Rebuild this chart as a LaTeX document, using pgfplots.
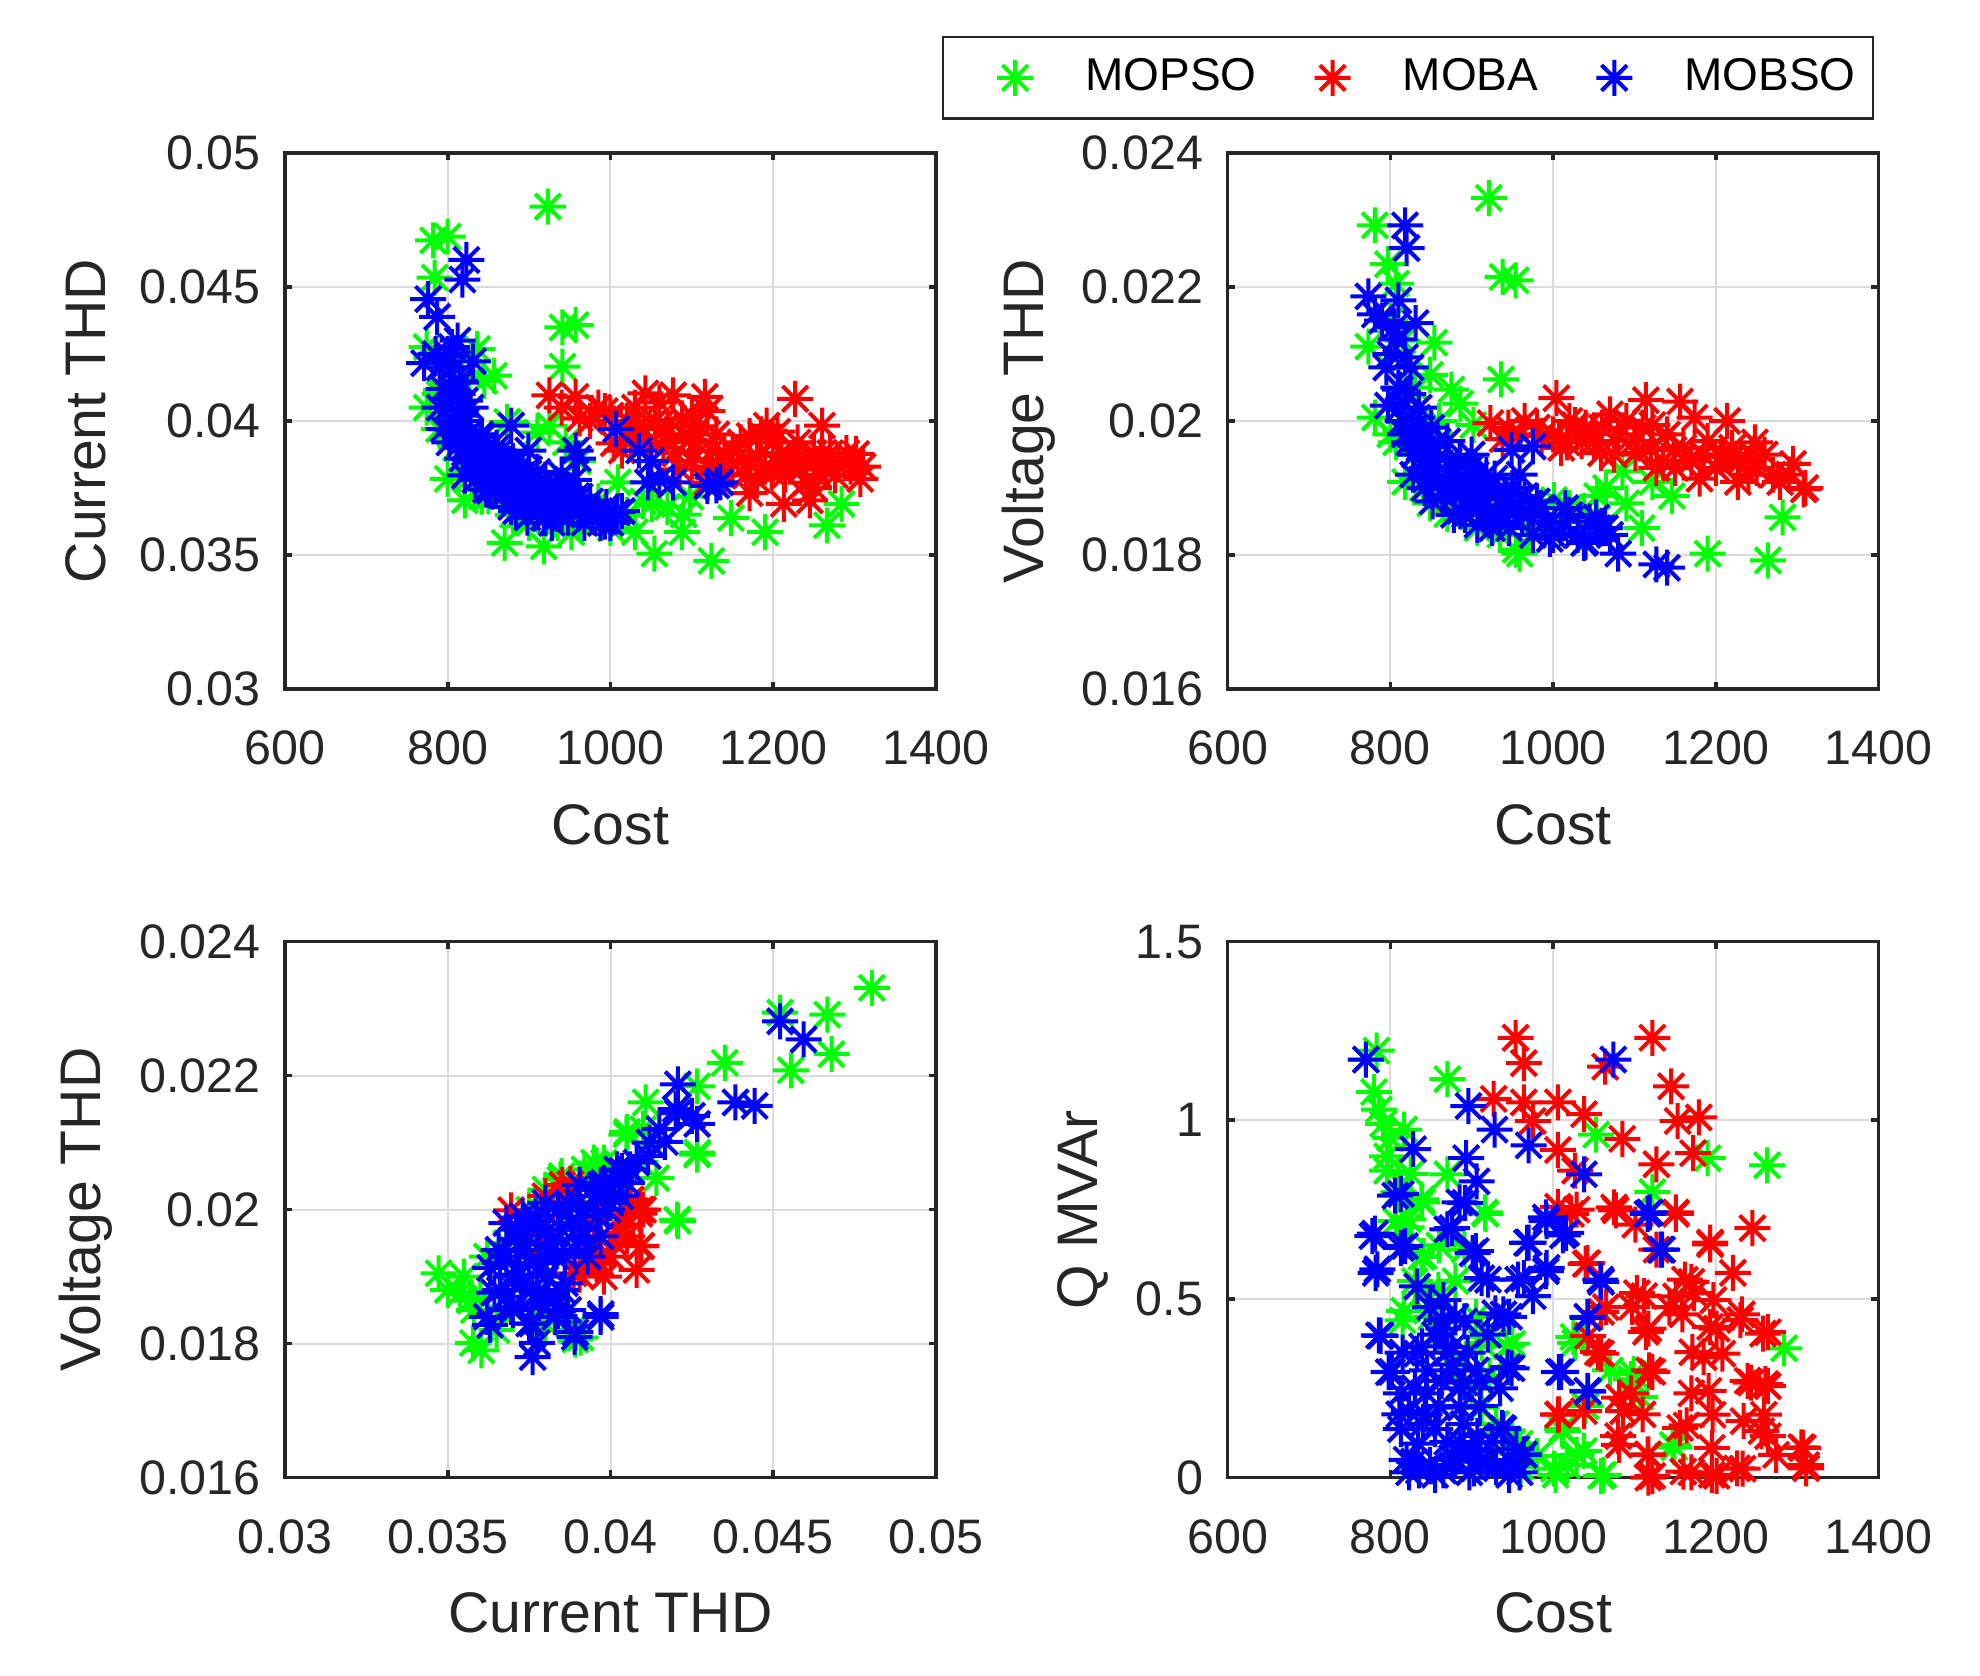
\documentclass[border=0pt]{standalone}
\usepackage{fontspec}
\setmainfont{Liberation Sans}
\usepackage{pgfplots}
\pgfplotsset{compat=1.18}
\definecolor{mgreen}{rgb}{0,1,0}
\definecolor{mred}{rgb}{1,0,0}
\definecolor{mblue}{rgb}{0,0,1}
\definecolor{axgray}{rgb}{0.15,0.15,0.15}
\pgfdeclareplotmark{mstar}{%
  \pgfpathmoveto{\pgfqpoint{0pt}{\pgfplotmarksize}}\pgfpathlineto{\pgfqpoint{0pt}{-\pgfplotmarksize}}%
  \pgfpathmoveto{\pgfqpoint{\pgfplotmarksize}{0pt}}\pgfpathlineto{\pgfqpoint{-\pgfplotmarksize}{0pt}}%
  \pgfpathmoveto{\pgfqpoint{0.7071\pgfplotmarksize}{0.7071\pgfplotmarksize}}\pgfpathlineto{\pgfqpoint{-0.7071\pgfplotmarksize}{-0.7071\pgfplotmarksize}}%
  \pgfpathmoveto{\pgfqpoint{-0.7071\pgfplotmarksize}{0.7071\pgfplotmarksize}}\pgfpathlineto{\pgfqpoint{0.7071\pgfplotmarksize}{-0.7071\pgfplotmarksize}}%
  \pgfusepathqstroke}
\pgfplotsset{
  myaxis/.style={
    scale only axis, width=162.75pt, height=134pt,
    grid=major, grid style={line width=0.5pt, draw=gray!28},
    axis line style={line width=0.9pt, draw=axgray},
    tick style={line width=0.9pt, draw=axgray},
    major tick length=1.8pt, tick align=inside,
    ticklabel style={font=\fontsize{12.1}{14}\selectfont, text=axgray, /pgf/number format/assume math mode=true},
    label style={font=\fontsize{14.3}{17}\selectfont, text=axgray},
    xticklabel style={yshift=-6.9pt},
    yticklabel style={xshift=-2.6pt},
    scaled ticks=false,
    /pgf/number format/fixed, /pgf/number format/precision=3, /pgf/number format/1000 sep={},
    clip=false,
    xlabel style={at={(axis description cs:0.5,-0.253)}, anchor=center},
    ylabel style={at={(axis description cs:-0.3066,0.5)}, anchor=center},
  },
  costx/.style={xmin=600, xmax=1400, xtick={600,800,1000,1200,1400}, xlabel={Cost}},
  gs/.style={only marks, mark=mstar, mark size=4.5pt, color=mgreen, mark options={line width=1pt}},
  rs/.style={only marks, mark=mstar, mark size=4.5pt, color=mred, mark options={line width=1pt}},
  bs/.style={only marks, mark=mstar, mark size=4.5pt, color=mblue, mark options={line width=1pt}},
}
\begin{document}
\begin{tikzpicture}
\useasboundingbox (0pt,0pt) rectangle (495pt,-418.75pt);
% ---------------- top left: Cost vs Current THD
\begin{axis}[myaxis, costx, at={(71.25pt,-38.25pt)}, anchor=north west,
  ymin=0.03, ymax=0.05, ytick={0.03,0.035,0.04,0.045,0.05}, ylabel={Current THD}]
\addplot[gs] coordinates {
(923,0.0480) (782,0.04674) (800,0.04688) (784,0.04535) (941,0.04349) (957,0.04358) (941,0.04203) (774,0.04276)
(836,0.04269) (857,0.04169) (826,0.04183) (774,0.0405) (792,0.04116) (789,0.0397) (800,0.03784) (821,0.03704)
(842,0.03718) (870,0.03545) (918,0.03532) (952,0.03585) (1030,0.03585) (1054,0.03505) (1088,0.03585) (1090,0.03651)
(1124,0.03478) (1148,0.03638) (1190,0.03585) (1266,0.03611) (1284,0.03691) (1051,0.03691) (1009,0.03771) (925,0.03983)
(910,0.03957) (873,0.03997) (889,0.03651) (962,0.03625) (1098,0.03718)
(810,0.0390) (830,0.0380) (850,0.0372) (880,0.0365) (900,0.0362) (935,0.0362) (985,0.0370) (1000,0.0360)
(1020,0.0365) (1070,0.0368) (945,0.0392) (960,0.0385) (790,0.0410) (805,0.0420) (845,0.0415) (860,0.0385) (1040,0.0370)
};
\addplot[rs] coordinates {
(925,0.04096) (957,0.0409) (1043,0.04103) (1077,0.04096) (1116,0.0409) (1227,0.04083) (993,0.04037) (962,0.0401)
(1088,0.0401) (1119,0.04037) (1192,0.03983) (1260,0.03983) (1171,0.03944) (1302,0.03877) (1310,0.0383) (1307,0.03784)
(1260,0.03877) (1213,0.03691) (1245,0.03704) (1171,0.03731) (1198,0.0381) (1014,0.0389) (1067,0.03944) (1098,0.0393)
(1150,0.0389) (1224,0.0385) (1166,0.03797) (1119,0.0377) (1041,0.0397) (1004,0.03917) (1276,0.03797) (1240,0.0377)
(940,0.0405) (975,0.0400) (1000,0.0402) (1020,0.0400) (1030,0.0405) (1055,0.0400) (1060,0.0407) (1070,0.0398)
(1090,0.0395) (1100,0.0402) (1110,0.0398) (1130,0.0395) (1140,0.0388) (1160,0.0392) (1180,0.0387) (1185,0.0395)
(1200,0.0392) (1210,0.0388) (1215,0.0380) (1230,0.0392) (1235,0.0382) (1250,0.0388) (1265,0.0382) (1280,0.0385)
(1290,0.0388) (1140,0.0380) (1100,0.0385) (1050,0.0385) (1025,0.0393) (1080,0.0388) (1120,0.0383) (1180,0.0378) (1250,0.0375)
(1035,0.0398) (1045,0.0392) (1065,0.0390) (1085,0.0382) (1105,0.0392) (1125,0.0389) (1150,0.0384) (1170,0.0385)
(1190,0.0383) (1205,0.0396) (1220,0.0386) (1240,0.0385) (1255,0.0380) (1270,0.0388) (1295,0.0383) (985,0.0405)
};
\addplot[bs] coordinates {
(823,0.04601) (818,0.04528) (776,0.04455) (787,0.04389) (771,0.04216) (805,0.04276) (831,0.04223) (816,0.04143)
(821,0.04076) (795,0.0397) (816,0.03917) (836,0.0385) (857,0.0389) (878,0.03983) (899,0.0389) (821,0.03797)
(847,0.03744) (884,0.03771) (910,0.0381) (884,0.03664) (920,0.03638) (957,0.0389) (962,0.03718) (993,0.03625)
(1014,0.03664) (1007,0.0397) (1035,0.0389) (1046,0.03771) (1077,0.03771) (1119,0.03757) (1135,0.03771) (936,0.03757)
(868,0.0385) (931,0.03718) (973,0.03664)
(800,0.0405) (805,0.0400) (810,0.0395) (812,0.0410) (815,0.0402) (820,0.0390) (825,0.0395) (828,0.0405)
(830,0.0385) (835,0.0392) (840,0.0380) (845,0.0388) (850,0.0378) (855,0.0384) (860,0.0376) (865,0.0381)
(870,0.0374) (875,0.0379) (880,0.0372) (885,0.0377) (890,0.0370) (895,0.0375) (900,0.0368) (905,0.0373)
(910,0.0366) (915,0.0371) (925,0.0368) (940,0.0365) (945,0.0372) (950,0.0368) (955,0.0378) (965,0.0367)
(975,0.0370) (985,0.0366) (995,0.0368) (1000,0.0362) (808,0.0420) (800,0.0425) (790,0.0420) (815,0.0415)
(840,0.0395) (860,0.0390) (880,0.0385) (900,0.0382) (920,0.0378) (940,0.0380) (960,0.0386) (1050,0.0385) (1060,0.0378) (1130,0.0376)
(802,0.0392) (806,0.0408) (812,0.0398) (818,0.0386) (822,0.0400) (828,0.0390) (834,0.0378) (838,0.0386)
(842,0.0394) (848,0.0382) (852,0.0374) (858,0.0380) (862,0.0388) (868,0.0372) (872,0.0384) (878,0.0368)
(882,0.0380) (888,0.0374) (892,0.0380) (898,0.0364) (902,0.0378) (908,0.0370) (912,0.0376) (918,0.0364)
(922,0.0372) (928,0.0362) (932,0.0374) (938,0.0370) (948,0.0364) (958,0.0372) (968,0.0362) (978,0.0366)
(988,0.0362) (1008,0.0366) (790,0.0405) (795,0.0412) (785,0.0425) (812,0.0430)
};
\end{axis}
% ---------------- top right: Cost vs Voltage THD
\begin{axis}[myaxis, costx, at={(306.9pt,-38.25pt)}, anchor=north west,
  ymin=0.016, ymax=0.024, ytick={0.016,0.018,0.02,0.022,0.024}, ylabel={Voltage THD},
  ylabel style={at={(axis description cs:-0.305,0.5)}},
  legend columns=3,
  legend image code/.code={\path (0pt,0pt) (30.75pt,0pt); \draw plot coordinates {(15.5pt,0pt)};},
  legend style={at={(0.9929,1.2183)}, anchor=north east, draw=axgray, line width=0.6pt,
    inner xsep=2.25pt, inner ysep=3.4pt, font=\fontsize{11.5}{13}\selectfont, text=black,
    /tikz/every even column/.append style={column sep=1.2pt},
    cells={anchor=west, inner xsep=0pt}}]
\addplot[gs] coordinates {
(921,0.02333) (781,0.02292) (797,0.02234) (807,0.02205) (938,0.02215) (954,0.0221) (773,0.02111) (854,0.02117)
(849,0.02069) (936,0.02062) (875,0.02047) (781,0.02005) (807,0.01968) (818,0.01909) (849,0.01877) (870,0.01861)
(907,0.0184) (954,0.01808) (959,0.01802) (1085,0.01925) (1090,0.01877) (1054,0.01888) (1109,0.0184) (1146,0.01888)
(1122,0.01909) (1190,0.01802) (1264,0.01792) (1282,0.01856) (886,0.02026) (902,0.01994) (1001,0.01882) (1038,0.01866)
(800,0.0215) (815,0.0212) (830,0.0195) (840,0.0190) (860,0.0200) (880,0.0187) (890,0.0192) (920,0.0186)
(935,0.0183) (945,0.0188) (970,0.0184) (985,0.0186) (1020,0.0187) (1065,0.0190) (830,0.0205) (800,0.0198)
};
\addlegendentry{MOPSO}
\addplot[rs] coordinates {
(1004,0.02034) (1114,0.02031) (1156,0.02029) (1214,0.0200) (923,0.01997) (965,0.0200) (1027,0.01994) (1070,0.0201)
(1122,0.01994) (1174,0.02005) (1248,0.01968) (1295,0.01936) (1308,0.01898) (1279,0.01909) (1240,0.0192) (1180,0.01914)
(1127,0.0193) (1059,0.01952) (1017,0.01968) (986,0.01978) (938,0.01973) (1206,0.01946) (1148,0.01957) (1227,0.01909) (1101,0.01952)
(945,0.0199) (980,0.0199) (1000,0.0198) (1040,0.0199) (1050,0.0197) (1080,0.0198) (1090,0.0200) (1100,0.0197)
(1140,0.0198) (1160,0.0196) (1170,0.0194) (1190,0.0197) (1200,0.0193) (1220,0.0196) (1230,0.0194) (1250,0.0193)
(1260,0.0195) (1270,0.0192) (1290,0.0192) (1310,0.0190) (1150,0.0193) (1120,0.0196) (1060,0.0199) (1020,0.0200) (960,0.0198)
(1010,0.0196) (1035,0.0197) (1075,0.0195) (1110,0.0199) (1135,0.0194) (1185,0.0195) (1210,0.0195) (1245,0.0195)
};
\addlegendentry{MOBA}
\addplot[bs] coordinates {
(818,0.02292) (820,0.02258) (773,0.02186) (781,0.02159) (831,0.02146) (807,0.02122) (818,0.02095) (812,0.02047)
(797,0.02023) (833,0.02005) (823,0.01968) (849,0.01946) (875,0.0193) (891,0.01904) (912,0.01888) (907,0.01845)
(949,0.01957) (975,0.01962) (959,0.0192) (943,0.01866) (996,0.01824) (1038,0.01818) (1053,0.01856) (1064,0.0184)
(1080,0.01802) (1127,0.01786) (1140,0.01781) (865,0.01888) (844,0.01914) (886,0.01866) (928,0.01914) (965,0.01888)
(790,0.0215) (800,0.0210) (810,0.0205) (815,0.0200) (825,0.0198) (830,0.0195) (840,0.0197) (845,0.0193)
(855,0.0194) (860,0.0191) (870,0.0192) (880,0.0189) (885,0.0194) (895,0.0190) (900,0.0187) (905,0.0192)
(915,0.0190) (920,0.0186) (930,0.0189) (935,0.0185) (950,0.0190) (955,0.0187) (970,0.0186) (980,0.0188)
(990,0.0185) (1010,0.0184) (1020,0.0186) (1030,0.0183) (1045,0.0185) (1060,0.0184) (1070,0.0183) (810,0.0218)
(825,0.0208) (835,0.0202) (850,0.0199) (870,0.0197) (900,0.0195)
(795,0.0208) (805,0.0214) (812,0.0202) (818,0.0198) (822,0.0204) (828,0.0192) (836,0.0196) (842,0.0190)
(848,0.0195) (852,0.0188) (858,0.0197) (864,0.0189) (872,0.0194) (878,0.0186) (884,0.0191) (892,0.0186)
(898,0.0193) (908,0.0187) (918,0.0192) (925,0.0184) (940,0.0189) (946,0.0184) (962,0.0186) (975,0.0183)
(985,0.0187) (1000,0.0183) (1015,0.0187) (1040,0.0182) (1055,0.0184)
};
\addlegendentry{MOBSO}
\end{axis}
% ---------------- bottom left: Current THD vs Voltage THD
\begin{axis}[myaxis, at={(71.25pt,-235.4pt)}, anchor=north west,
  xmin=0.03, xmax=0.05, xtick={0.03,0.035,0.04,0.045,0.05}, xlabel={Current THD},
  ymin=0.016, ymax=0.024, ytick={0.016,0.018,0.02,0.022,0.024}, ylabel={Voltage THD}]
\addplot[gs] coordinates {
(0.04803,0.02331) (0.04521,0.02294) (0.04666,0.02291) (0.04679,0.02232) (0.04554,0.02208) (0.04351,0.02219)
(0.04266,0.02184) (0.04108,0.0216) (0.04049,0.02112) (0.04266,0.02082) (0.04207,0.01983) (0.03957,0.02066)
(0.03472,0.01905) (0.03538,0.01876) (0.03577,0.01801) (0.03603,0.0179) (0.03892,0.01806) (0.03905,0.02042) (0.04141,0.02047)
(0.0350,0.0188) (0.0355,0.0190) (0.0358,0.0185) (0.0362,0.0193) (0.0368,0.0195) (0.0375,0.0200) (0.0380,0.0203)
(0.0385,0.0205) (0.0392,0.0206) (0.0398,0.0207) (0.0388,0.0182) (0.0380,0.0183) (0.0370,0.0185) (0.0365,0.0182)
(0.0395,0.0200) (0.0400,0.0203) (0.0410,0.0212) (0.0360,0.0187)
(0.03908,0.01809) (0.04205,0.01985) (0.04051,0.02116) (0.03949,0.0207) (0.04267,0.02085) (0.03846,0.02045) (0.03569,0.01864)
};
\addplot[rs] coordinates {
(0.03695,0.01999) (0.038,0.0202) (0.04089,0.01994) (0.04095,0.01946) (0.03957,0.01919) (0.03905,0.01903)
(0.04036,0.01978) (0.0401,0.01951) (0.03852,0.02037) (0.04062,0.02015)
(0.0375,0.0197) (0.0385,0.0200) (0.0390,0.0197) (0.0395,0.0195) (0.0400,0.0193) (0.0405,0.0196) (0.0410,0.0200)
(0.0398,0.0190) (0.0392,0.0192) (0.0380,0.0195) (0.0388,0.0203) (0.0403,0.0199) (0.0408,0.0191) (0.0397,0.0199)
(0.03877,0.02038) (0.04092,0.0200) (0.04092,0.01945) (0.03969,0.0192) (0.03887,0.01905) (0.0402,0.01965) (0.04062,0.02015)
};
\addplot[bs] coordinates {
(0.04521,0.02281) (0.04593,0.02254) (0.04207,0.02187) (0.04384,0.0216) (0.04443,0.02155) (0.04266,0.02128)
(0.04207,0.02144) (0.04167,0.02101) (0.04115,0.0208) (0.04036,0.02058) (0.0397,0.02037) (0.03905,0.02037)
(0.03839,0.01999) (0.03774,0.01983) (0.03708,0.01956) (0.03656,0.0194) (0.0363,0.01913) (0.03643,0.01876)
(0.0363,0.01828) (0.03761,0.0178) (0.03774,0.01801) (0.0397,0.01844) (0.03892,0.01817) (0.03839,0.01849)
(0.03721,0.01903) (0.038,0.0193) (0.03905,0.01956) (0.03774,0.01876) (0.03695,0.01855)
(0.0370,0.0190) (0.0372,0.0195) (0.0375,0.0192) (0.0378,0.0197) (0.0380,0.0190) (0.0382,0.0195) (0.0384,0.0200)
(0.0386,0.0193) (0.0388,0.0198) (0.0390,0.0201) (0.0392,0.0196) (0.0394,0.0203) (0.0396,0.0199) (0.0398,0.0204)
(0.0400,0.0201) (0.0402,0.0206) (0.0405,0.0204) (0.0408,0.0207) (0.0412,0.0210) (0.0415,0.0212) (0.0420,0.0215)
(0.0425,0.0214) (0.0378,0.0186) (0.0385,0.0188) (0.0368,0.0187) (0.0375,0.0183) (0.0383,0.0184) (0.0373,0.0199)
(0.0380,0.0201) (0.0366,0.0192)
(0.0366,0.0188) (0.0368,0.0193) (0.0370,0.0185) (0.0371,0.0197) (0.0373,0.0189) (0.0374,0.0194) (0.0376,0.0188)
(0.0377,0.0199) (0.0379,0.0192) (0.0381,0.0187) (0.0381,0.0197) (0.0383,0.0193) (0.0385,0.0197) (0.0386,0.0189)
(0.0387,0.0201) (0.0389,0.0194) (0.0391,0.0199) (0.0393,0.0193) (0.0395,0.0202) (0.0397,0.0196) (0.0399,0.0200)
(0.0401,0.0204) (0.0403,0.0202) (0.0406,0.0206) (0.0362,0.0184) (0.0376,0.0183) (0.0389,0.0181) (0.0397,0.0184)
(0.0387,0.0185) (0.0368,0.0198)
};
\end{axis}
% ---------------- bottom right: Cost vs Q
\begin{axis}[myaxis, costx, at={(306.9pt,-235.4pt)}, anchor=north west,
  ymin=0, ymax=1.5, ytick={0,0.5,1,1.5}, ylabel={Q MVAr},
  ylabel style={at={(axis description cs:-0.223,0.5)}}]
\addplot[gs] coordinates {
(783,1.195) (770,1.17) (780,1.079) (786,1.03) (791,0.99) (817,0.974) (870,1.115) (796,0.899) (796,0.859)
(1053,0.96) (1190,0.894) (1263,0.874) (838,0.779) (870,0.849) (917,0.738) (807,0.718) (838,0.618) (1284,0.362)
(1122,0.799) (1027,0.377) (912,0.377) (943,0.367) (817,0.467) (844,0.517) (891,0.638) (1001,0.025) (1059,0.005)
(1038,0.075) (1017,0.035) (1011,0.136) (959,0.095) (1149,0.085) (1107,0.226) (1096,0.276) (912,0.196) (922,0.286)
(800,0.95) (810,0.80) (820,0.70) (830,0.55) (850,0.45) (860,0.40) (880,0.30) (900,0.25) (930,0.15)
(945,0.10) (960,0.03) (980,0.06) (1040,0.20) (1070,0.30) (905,0.45) (860,0.65) (825,0.85) (880,0.55)
(916,0.742) (839,0.77) (822,0.723) (841,0.62) (815,0.44) (859,0.525) (950,0.375) (911,0.394) (1025,0.394)
(1099,0.29) (1012,0.13) (1003,0.008) (1029,0.064) (1062,0.008) (1147,0.092) (950,0.10) (964,0.055)
};
\addplot[rs] coordinates {
(954,1.231) (1122,1.231) (964,1.16) (1064,1.15) (1145,1.095) (927,1.06) (964,1.05) (1006,1.05) (1038,1.017)
(1153,0.998) (1179,1.008) (975,0.998) (1085,0.948) (1006,0.917) (1172,0.908) (1127,0.877) (1027,0.859)
(1006,0.758) (1022,0.738) (1077,0.748) (1151,0.738) (1245,0.698) (1101,0.708) (1193,0.658) (1127,0.638)
(1040,0.598) (1221,0.573) (1170,0.548) (1112,0.508) (1143,0.477) (1159,0.457) (1065,0.477) (1232,0.457)
(1264,0.407) (1201,0.417) (1059,0.347) (1122,0.296) (1185,0.337) (1243,0.266) (1264,0.256) (1096,0.236)
(1170,0.236) (1006,0.176) (1086,0.186) (1196,0.176) (1259,0.176) (1305,0.085) (1311,0.035) (1164,0.146)
(1080,0.116) (1117,0.065) (1170,0.015) (1201,0.005) (1233,0.025) (1122,0.005) (1264,0.116) (1043,0.397) (1117,0.417)
(1029,0.75) (1075,0.756) (1151,0.742) (1193,0.653) (1162,0.554) (1103,0.516) (1151,0.507) (1042,0.60)
(1059,0.464) (1114,0.408) (1193,0.422) (1230,0.441) (1258,0.403) (1171,0.351) (1208,0.347) (1055,0.351)
(1118,0.30) (1191,0.243) (1239,0.271) (1261,0.262) (1007,0.177) (1038,0.186) (1110,0.177) (1156,0.139)
(1234,0.158) (1256,0.13) (1081,0.092) (1116,0.064) (1195,0.083) (1307,0.083) (1311,0.026) (1117,0)
(1160,0.017) (1195,0.008) (1226,0.026) (1274,0.064) (1081,0.224) (1097,0.478) (1173,0.516) (1197,0.497)
};
\addplot[bs] coordinates {
(770,1.17) (1074,1.17) (896,1.04) (928,0.974) (970,0.93) (828,0.919) (893,0.894) (906,0.829) (1038,0.849)
(813,0.794) (892,0.769) (876,0.698) (781,0.683) (818,0.648) (784,0.583) (970,0.658) (1012,0.678) (991,0.728)
(1116,0.738) (1132,0.638) (1059,0.548) (901,0.628) (912,0.558) (964,0.558) (991,0.578) (975,0.508) (939,0.457)
(1043,0.447) (788,0.397) (839,0.367) (802,0.296) (949,0.306) (1010,0.296) (1043,0.241) (849,0.477) (865,0.417)
(876,0.316) (891,0.266) (823,0.186) (813,0.136) (834,0.095) (849,0.035) (823,0.015) (876,0.055) (897,0.015)
(918,0.045) (939,0.136) (964,0.065) (959,0.015) (855,0.136) (886,0.196) (907,0.116) (844,0.236) (813,0.236)
(891,0.437) (865,0.497)
(830,0.25) (845,0.30) (860,0.20) (870,0.10) (880,0.05) (890,0.15) (900,0.08) (910,0.20) (925,0.10) (930,0.03)
(945,0.05) (955,0.08) (820,0.05) (840,0.15) (855,0.40) (870,0.35) (880,0.45) (895,0.35) (815,0.35) (835,0.02)
(865,0.02) (885,0.25) (905,0.30) (920,0.40) (935,0.25)
(806,0.789) (885,0.77) (778,0.676) (813,0.643) (782,0.573) (870,0.695) (905,0.634) (968,0.657) (992,0.718)
(1016,0.685) (992,0.587) (957,0.554) (920,0.554) (1119,0.742) (1134,0.638) (1058,0.554) (1042,0.45) (946,0.45)
(929,0.46) (833,0.535) (786,0.398) (833,0.347) (798,0.295) (944,0.309) (1007,0.295) (1042,0.243) (811,0.177)
(863,0.44) (876,0.365) (911,0.271) (937,0.139) (964,0.064) (829,0.045) (855,0.008) (903,0.026) (946,0.008)
(863,0.271) (842,0.177) (885,0.10) (911,0.045)
};
\end{axis}
\end{tikzpicture}
\end{document}
